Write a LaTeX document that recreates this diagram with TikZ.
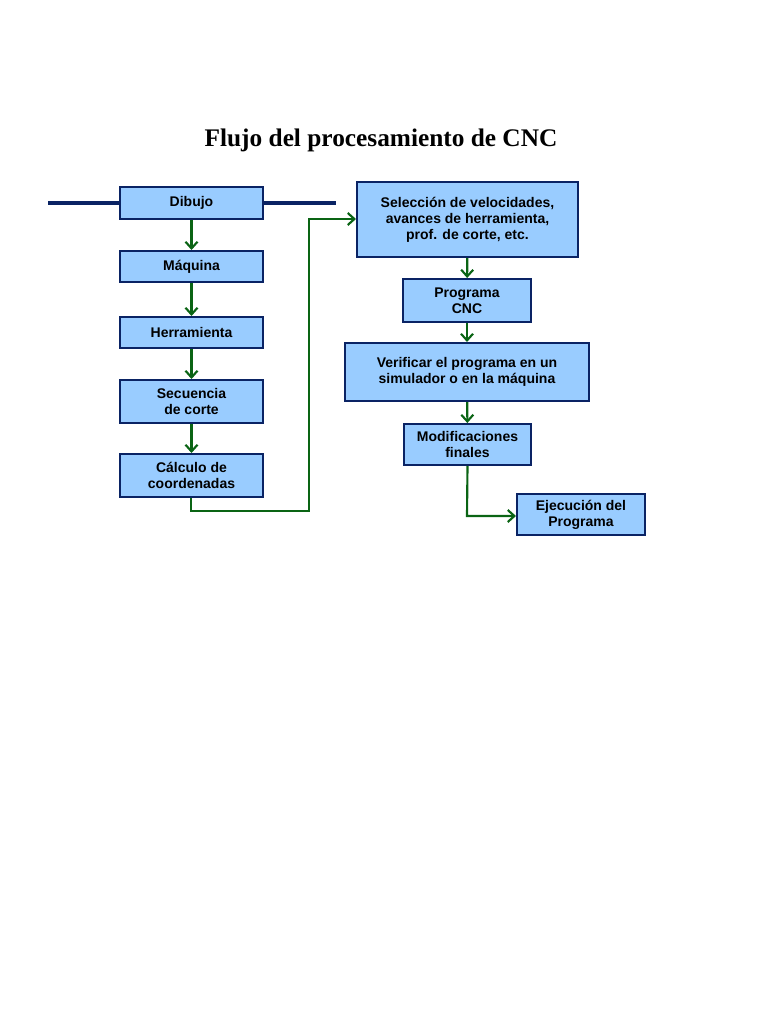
\documentclass[tikz,border=0pt]{standalone}
\usepackage{fontspec}
\setmainfont{Liberation Serif}
\newfontfamily\boxfont{Liberation Sans}
\usetikzlibrary{arrows.meta}
\definecolor{boxfill}{RGB}{153,204,255}
\definecolor{boxline}{RGB}{10,35,100}
\definecolor{arrowgreen}{RGB}{10,100,20}
\begin{document}
\begin{tikzpicture}[x=0.75pt,y=-0.75pt,
  box/.style={draw=boxline,line width=1.5pt,fill=boxfill,align=center,inner sep=0pt,
    font=\boxfont\bfseries\fontsize{10.5}{12}\selectfont},
  conn/.style={draw=arrowgreen,line width=1.6pt,-{Straight Barb[length=5pt,width=9pt]}}]
\useasboundingbox (0,0) rectangle (768,1024);
\node[font=\bfseries\fontsize{19}{22}\selectfont] (title) at (381,140) {Flujo del procesamiento de CNC};
\node[box,minimum width=143\pgflinewidth,text width=130] (d) at (191.5,203) {};
\node[box,minimum width=107.25pt,minimum height=24pt] (dib) at (191.5,203) {Dibujo};
\node[box,minimum width=107.25pt,minimum height=23.25pt] (maq) at (191.5,266.5) {Máquina};
\node[box,minimum width=107.25pt,minimum height=23.25pt] (her) at (191.5,332.5) {Herramienta};
\node[box,minimum width=107.25pt,minimum height=32.25pt] (sec) at (191.5,401.5) {Secuencia\\de corte};
\node[box,minimum width=107.25pt,minimum height=32.25pt] (cal) at (191.5,475.5) {Cálculo de\\coordenadas};
\node[box,minimum width=165.75pt,minimum height=56.25pt] (sel) at (467.5,219.5) {Selección de velocidades,\\avances de herramienta,\\prof. de corte, etc.};
\node[box,minimum width=96pt,minimum height=32.25pt] (pro) at (467,300.5) {Programa\\CNC};
\node[box,minimum width=183pt,minimum height=43.5pt] (ver) at (467,372) {Verificar el programa en un\\simulador o en la máquina};
\node[box,minimum width=95.25pt,minimum height=30.75pt] (mod) at (467.5,444.5) {Modificaciones\\finales};
\node[box,minimum width=96pt,minimum height=30.75pt] (eje) at (581,514.5) {Ejecución del\\Programa};
\draw[conn] (dib) -- (maq);
\draw[conn] (maq) -- (her);
\draw[conn] (her) -- (sec);
\draw[conn] (sec) -- (cal);
\coordinate (c1) at (191,511);
\coordinate (c2) at (309,511);
\coordinate (c3) at (309,219);
\draw[conn] (cal.south -| c1) -- (c1) -- (c2) -- (c3) -- (sel.west |- c3);
\draw[conn] (sel) -- (pro);
\draw[conn] (pro) -- (ver);
\draw[conn] (ver) -- (mod);
\coordinate (m1) at (467,516);
\draw[conn] (mod.south) -- (m1) -- (eje.west |- m1);
\end{tikzpicture}
\end{document}
